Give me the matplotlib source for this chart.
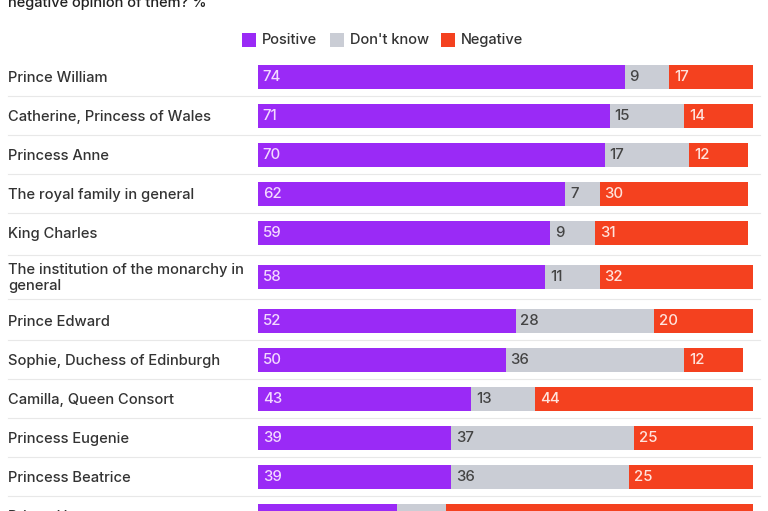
"""YouGov-style stacked bars: opinion of royal family members."""

import matplotlib.pyplot as plt
from matplotlib.patches import Rectangle
from matplotlib.transforms import blended_transform_factory

plt.rcParams["font.family"] = ["Inter", "DejaVu Sans"]

names = [
    "Prince William",
    "Catherine, Princess of Wales",
    "Princess Anne",
    "The royal family in general",
    "King Charles",
    "The institution of the monarchy in\ngeneral",
    "Prince Edward",
    "Sophie, Duchess of Edinburgh",
    "Camilla, Queen Consort",
    "Princess Eugenie",
    "Princess Beatrice",
    "Prince Harry",
]
positive = [74, 71, 70, 62, 59, 58, 52, 50, 43, 39, 39, 28]
dont_know = [9, 15, 17, 7, 9, 11, 28, 36, 13, 37, 36, 10]
negative = [17, 14, 12, 30, 31, 32, 20, 12, 44, 25, 25, 62]

series = [
    ("Positive", positive, "#9a2af6", "#f3d9ff"),
    ("Don't know", dont_know, "#cacdd5", "#444444"),
    ("Negative", negative, "#f4411f", "#ffe3dc"),
]

W, H = 768, 511
fig = plt.figure(figsize=(W / 100, H / 100), dpi=100)
fig.patch.set_facecolor("white")

# axes: x in percent, y in pixel rows (top = 0)
ax = fig.add_axes([258 / W, 0, 495.3 / W, 1])
ax.set_xlim(0, 100)
ax.set_ylim(H, 0)
ax.axis("off")

# row centres, two-line labels get a taller row
ys = []
y = 77
for i, n in enumerate(names):
    two = "\n" in n
    if i > 0:
        y += 39 + (5 if two else 0) + (5 if "\n" in names[i - 1] else 0)
    ys.append(y)

bar_h = 24
left = [0] * len(names)
for label, vals, color, tcolor in series:
    ax.barh(ys, vals, left=left, height=bar_h, color=color, linewidth=0)
    for yi, v, l in zip(ys, vals, left):
        ax.annotate(str(v), (l, yi), xytext=(3.5, 0), textcoords="offset points",
                    ha="left", va="center", fontsize=10.8, color=tcolor,
                    fontweight="medium")
    left = [a + b for a, b in zip(left, vals)]

tr = blended_transform_factory(fig.transFigure, ax.transData)
for yi, n in zip(ys, names):
    ax.text(8 / W, yi + 1, n, transform=tr, ha="left", va="center",
            fontsize=10.6, color="#333333", linespacing=1.1,
            fontweight="medium")

# separators between rows
for a, b in zip(ys[:-1], ys[1:]):
    ax.plot([8 / W, 760 / W], [(a + b) / 2] * 2, transform=tr,
            color="#e8e8e8", linewidth=0.8, clip_on=False)

# cut-off question text at the top
fig.text(8 / W, 1 - 7 / H, "negative opinion of them? %", ha="left",
         va="baseline", fontsize=10.5, color="#222222", fontweight="medium")

# legend
leg_items = [("Positive", "#9a2af6", 242), ("Don't know", "#cacdd5", 330),
             ("Negative", "#f4411f", 441)]
for label, color, x0 in leg_items:
    fig.add_artist(Rectangle((x0 / W, 1 - 47 / H), 14 / W, 14 / H,
                             transform=fig.transFigure, color=color, lw=0))
    fig.text((x0 + 20) / W, 1 - 40 / H, label, ha="left", va="center",
             fontsize=10.5, color="#333333", fontweight="medium")

fig.savefig("out.png", dpi=100)
